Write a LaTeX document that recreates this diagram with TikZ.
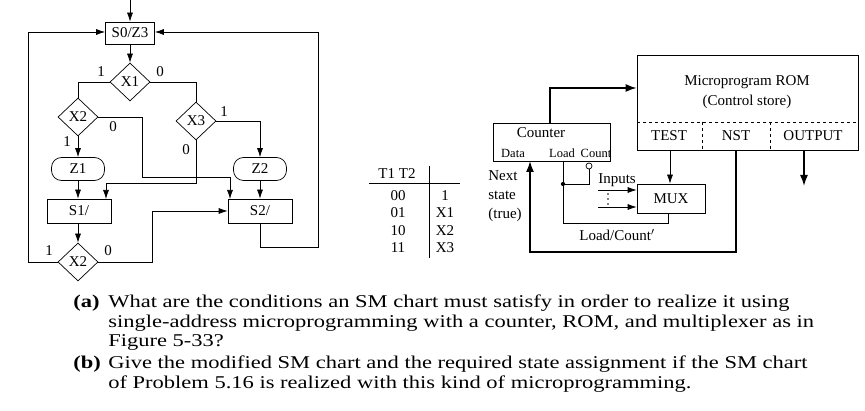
\documentclass[tikz,border=0pt]{standalone}
\usepackage{fontspec}
\setmainfont{Liberation Serif}
\newfontfamily\qfont[FakeStretch=1.25]{Liberation Serif}
\usetikzlibrary{shapes.geometric, arrows.meta, positioning}
\tikzset{
    state/.style={rectangle, draw=black, minimum width=64pt, minimum height=24pt, inner sep=0pt},
    cond/.style={diamond, draw=black, minimum width=40pt, minimum height=38pt, inner sep=0pt},
    outp/.style={rectangle, rounded corners=10pt, draw=black, minimum width=53pt, minimum height=23pt},
    arrow/.style={-{Latex[length=9pt,width=6pt]}},
    thickarrow/.style={line width=1.6pt, -{Latex[length=11pt,width=8pt]}},
    lbl/.style={inner sep=1pt},
    small/.style={font=\fontsize{12.5}{14}\selectfont},
    qline/.style={anchor=base west, inner sep=0pt},
}
\begin{document}
\begin{tikzpicture}[x=1pt,y=-1pt,font=\fontsize{15}{17}\selectfont,line width=0.7pt]
  \useasboundingbox (0,0) rectangle (865,411);
  % SM chart
  \coordinate (entry) at (130,0);
  \node[state,minimum width=49pt,minimum height=22pt] (S0) at (130,33) {S0/Z3};
  \node[cond] (X1)  at (130,82)  {X1};
  \node[cond] (X2)  at (78,117)  {X2};
  \node[cond] (X3)  at (196,121) {X3};
  \node[outp] (Z1)  at (78,169)  {Z1};
  \node[outp] (Z2)  at (260,169) {Z2};
  \node[state] (S1) at (79,211)  {S1/};
  \node[state] (S2) at (260,211) {S2/};
  \node[cond] (X2b) at (78,262)  {X2};

  \draw[arrow] (entry) -- (S0);
  \draw[arrow] (S0) -- (X1);
  \draw (X1.west) -| (X2.north);
  \draw (X1.east) -| (X3.north);
  \draw[arrow] (X2) -- (Z1);
  \draw[arrow] (Z1) -- (Z1 |- S1.north);
  \draw[arrow] (X2.east) -- (142,117) -- (142,177) -- (230,177) -- (230,199);
  \draw[arrow] (X3.south) -- (196,183) -- (106,183) -- (106,199);
  \draw[arrow] (X3.east) -| (Z2.north);
  \draw[arrow] (Z2) -- (S2);
  \draw[arrow] (S1.south -| X2b) -- (X2b);
  \draw[arrow] (X2b.west) -- (28,262) -- (28,32) -- (S0.west |- 0,32);
  \draw[arrow] (X2b.east) -- (152,262) -- (152,211) -- (S2.west);
  \draw[arrow] (S2.south) -- (260,247) -- (318,247) -- (318,32) -- (S0.east |- 0,32);

  \node[lbl] at (101,72)  {1};
  \node[lbl] at (160,72)  {0};
  \node[lbl] at (67,142)  {1};
  \node[lbl] at (113,127) {0};
  \node[lbl] at (186,150) {0};
  \node[lbl] at (224,112) {1};
  \node[lbl] at (49,251)  {1};
  \node[lbl] at (108,251) {0};

  % assignment table
  \draw (369,183) -- (460,183);
  \draw (429,166) -- (429,258);
  \node (hdr) at (397,174) {T1 T2};
  \foreach \t/\c [count=\i] in {00/1, 01/X1, 10/X2, 11/X3} {
    \node (t\i) at (398,178+17.5*\i) {\t};
    \node (c\i) at (445,178+17.5*\i) {\c};
  }

  % microprogramming hardware
  \node[rectangle,draw,minimum width=221pt,minimum height=95pt] (rom) at (747.5,102.5) {};
  \node (romtitle) at (747,82)  {Microprogram ROM};
  \node (romsub)   at (747,102) {(Control store)};
  \draw[dashed] (637,122) -- (858,122);
  \draw[dashed] (702,122) -- (702,150);
  \draw[dashed] (770,122) -- (770,150);
  \node (test)   at (669,136) {TEST};
  \node (nst)    at (736,136) {NST};
  \node (output) at (813,136) {OUTPUT};

  \node[rectangle,draw,minimum width=117pt,minimum height=38pt] (counter) at (551.5,142) {};
  \node (ctitle) at (541,133) {Counter};
  \node[small] (cdata)  at (513,153) {Data};
  \node[small] (cload)  at (562,153) {Load};
  \node[small] (ccount) at (596,153) {Count};

  \node[rectangle,draw,minimum width=68pt,minimum height=29pt] (mux) at (671,198.5) {MUX};
  \draw[thickarrow] (550,123) -- (550,88) -- (rom.west |- 0,88);
  \draw[arrow] (670,150) -- (mux.north -| 670,0);
  \draw[thickarrow] (804,150) -- (804,186);
  \draw[thickarrow] (736,150) -- (736,252) -- (530,252) -- (530,161);

  \coordinate (loadin) at (563,161);
  \node[circle,fill,inner sep=1.5pt] (dot) at (563,184) {};
  \node[circle,draw,inner sep=0pt,minimum size=6pt] (bubble) at (589,166) {};
  \draw (loadin) -- (563,223) -- (668,223) -- (668,213);
  \draw (dot) -- (589,184) -- (bubble);
  \draw[arrow] (598,190) -- (mux.west |- 0,190);
  \draw[arrow] (598,207) -- (mux.west |- 0,207);
  \node (inputs) at (617,180) {Inputs};
  \foreach \y in {194,199,204}
    \fill (608,\y) circle (0.9pt);
  \node (loadcount) at (617,235) {Load/Count$'$};
  \node[align=left,anchor=north west,inner sep=0pt,font=\fontsize{15}{19}\selectfont] (nextstate) at (488,170) {Next\\state\\(true)};

  % problem text
  \begin{scope}[font=\qfont\fontsize{18}{20}\selectfont]
    \node[qline] (qa)  at (73,308)  {\bfseries(a)};
    \node[qline] (qa1) at (108,308) {What are the conditions an SM chart must satisfy in order to realize it using};
    \node[qline] (qa2) at (108,328) {single-address microprogramming with a counter, ROM, and multiplexer as in};
    \node[qline] (qa3) at (108,347) {Figure 5-33?};
    \node[qline] (qb)  at (73,369)  {\bfseries(b)};
    \node[qline] (qb1) at (108,369) {Give the modified SM chart and the required state assignment if the SM chart};
    \node[qline] (qb2) at (108,389) {of Problem 5.16 is realized with this kind of microprogramming.};
  \end{scope}
\end{tikzpicture}
\end{document}
